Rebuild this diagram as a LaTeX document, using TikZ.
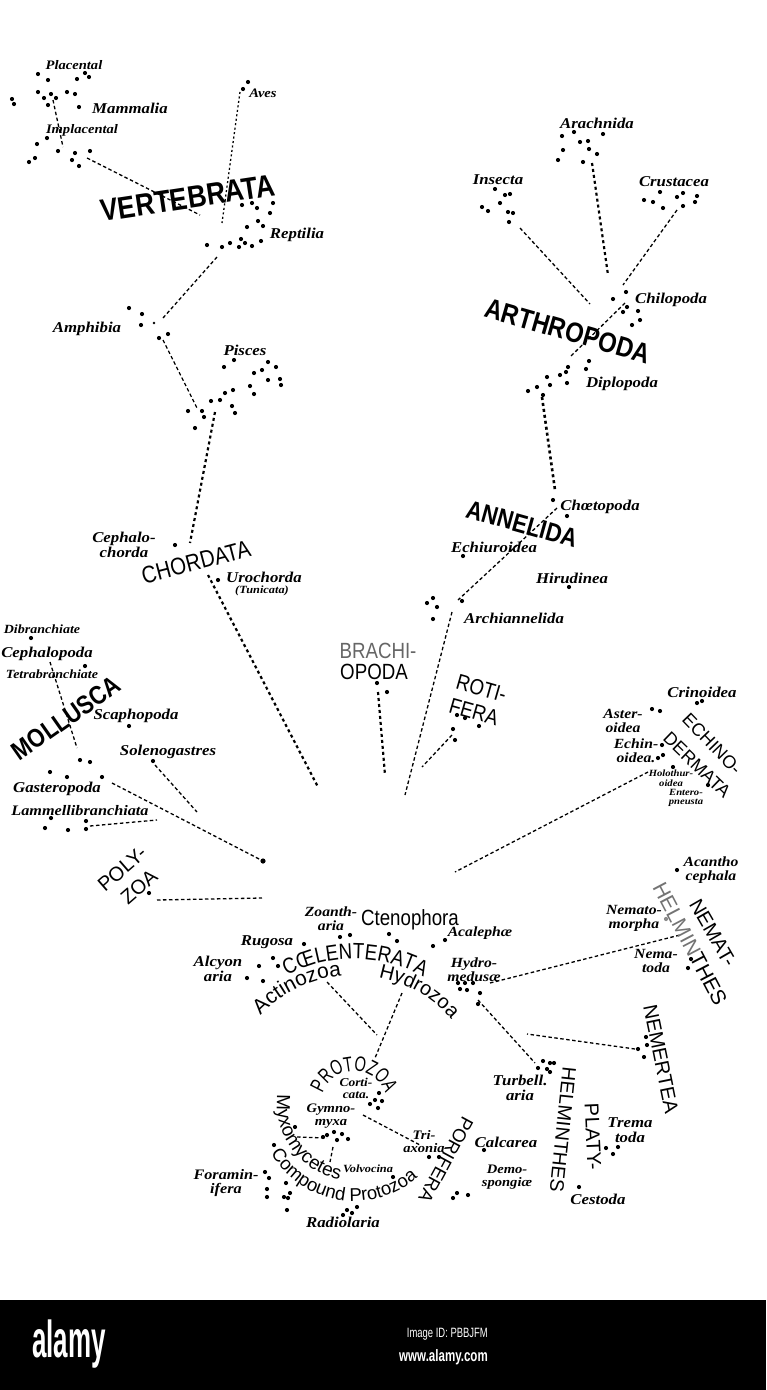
\documentclass[tikz,border=0pt]{standalone}
\usepackage{fontspec}
\usetikzlibrary{decorations.text,calc}
\newfontfamily\lf[FakeStretch=1.12]{Liberation Serif}
\newfontfamily\cf[FakeStretch=0.85]{Liberation Sans}
\newfontfamily\cc[FakeStretch=0.7]{Liberation Sans}
\newfontfamily\cn{Liberation Sans}
\newfontfamily\alf[FakeStretch=0.5]{Liberation Sans}
\newfontfamily\alg[FakeStretch=0.7]{Liberation Sans}
\newcommand\dts[1]{\foreach \x/\y in {#1}{\fill (\x,\y) circle (2.1pt);}}
\tikzset{
  lab/.style={inner sep=0pt, align=center, font=\lf\bfseries\itshape\fontsize{#1}{#1}\selectfont},
  lab/.default=15,
  cap/.style={inner sep=0pt, align=center, font=\cf\fontsize{#1}{#1}\selectfont},
  bcap/.style={inner sep=0pt, font=\cf\bfseries\fontsize{#1}{#1}\selectfont},
  ncap/.style={inner sep=0pt, font=\cn\fontsize{#1}{#1}\selectfont},
  dl/.style={line width=1.3pt, dash pattern=on 3.5pt off 2.5pt},
  dh/.style={line width=2.2pt, dash pattern=on 3pt off 3pt},
  dt/.style={line width=1.3pt, dash pattern=on 2pt off 2.5pt},
}
\begin{document}
\begin{tikzpicture}[x=1pt,y=-1pt]
\useasboundingbox (0,0) rectangle (766,1390);
\fill[white] (0,0) rectangle (766,1300);
\fill[black] (0,1300) rectangle (766,1390);

% ---------------- dots
\dts{38/74,48/80,77/79,85/73,89/77,38/92,44/98,51/94,56/98,48/105,67/92,75/94,79/107,12/99,14/104}
\dts{47/138,37/144,58/151,75/153,90/151,72/160,79/166,35/158,29/162}
\dts{248/82,243/89}
\dts{242/205,252/203,257/208,273/203,270/213,258/221,263/226,247/227,241/239,245/243,261/241,252/246,239/247,230/243,222/247,207/245}
\dts{129/308,142/314,141/325,159/338,168/334}
\fill (154,323) circle (1.3pt);
\dts{224/367,234/360,268/362,276/367,262/370,254/373,268/380,280/379,281/385,250/386,254/394,233/390,225/393,220/400,211/401,232/406,235/413,188/411,202/411,204/417,195/428}
\dts{175/545,218/580}
\dts{562/136,574/132,580/142,588/141,603/134,563/150,589/149,597/154,558/160,583/162}
\dts{495/189,505/195,510/194,500/203,482/207,488/211,508/212,513/213,509/222}
\dts{660/192,644/200,653/202,663/208,677/197,683/193,697/196,695/202,683/206}
\dts{626/292,613/299,627/307,638/311,623/312,640/320,632/325}
\dts{589/361,586/369,568/367,566/372,560/375,567/383,547/377,550/385,537/387,528/391,543/395}
\dts{553/500,567/516,463/556,569/587,433/598,427/603,437/607,433/619,462/601}
\dts{377/683,387/692}
\dts{457/715,465/718,479/726,453/729,455/740}
\dts{702/701,697/703,652/709,660/711,662/745,663/755,658/758,673/767,708/785}
\dts{31/638,85/666,129/726,153/761,80/760,90/762,50/772,67/777,102/777,51/818,86/821,45/828,68/830,86/829}
\fill (263,861) circle (2.6pt);
\dts{149/893}
\dts{340/937,350/935,389/934,397/941,445/940,433/946,304/944,259/966,273/958,278/966,247/978,263/981}
\dts{458/983,465/983,473/983,460/989,467/990,480/993,478/1004}
\dts{677/870,688/968,691/959}
\fill[black!45] (666,919) circle (2.1pt);
\dts{646/1037,647/1045,638/1049,644/1057}
\dts{543/1061,550/1063,554/1063,538/1068,547/1069,550/1072}
\dts{606/1148,618/1147,613/1154,579/1187,484/1150,457/1193,453/1198,468/1195}
\dts{379/1093,382/1101,375/1100,370/1104,378/1108}
\dts{327/1135,334/1132,342/1134,337/1140,348/1139,323/1137}
\dts{429/1157,439/1157,393/1177,295/1127,274/1145}
\dts{265/1172,269/1178,267/1189,286/1183,290/1193,288/1198,267/1197,284/1197,287/1210}
\dts{357/1207,347/1210,352/1213,343/1215}

% ---------------- connector end points
\coordinate (pl1) at (53,100); \coordinate (pl2) at (63,147);
\coordinate (im1) at (87,158); \coordinate (im2) at (200,215);
\coordinate (av1) at (240,92); \coordinate (av2) at (222,223);
\coordinate (re1) at (217,257); \coordinate (re2) at (163,318);
\coordinate (am1) at (163,340); \coordinate (am2) at (197,408);
\coordinate (pi1) at (215,412); \coordinate (pi2) at (190,543);
\coordinate (ch1) at (208,575); \coordinate (ch2) at (318,787);
\coordinate (ar1) at (592,163); \coordinate (ar2) at (608,275);
\coordinate (in1) at (520,228); \coordinate (in2) at (590,304);
\coordinate (cr1) at (677,210); \coordinate (cr2) at (623,285);
\coordinate (cl1) at (625,303); \coordinate (cl2) at (570,357);
\coordinate (dp1) at (542,397); \coordinate (dp2) at (555,490);
\coordinate (ct1) at (557,508); \coordinate (ct2) at (458,600);
\coordinate (ac1) at (452,612); \coordinate (ac2) at (405,795);
\coordinate (br1) at (378,692); \coordinate (br2) at (385,775);
\coordinate (ro1) at (452,735); \coordinate (ro2) at (422,767);
\coordinate (ec1) at (648,772); \coordinate (ec2) at (455,872);
\coordinate (cp1) at (50,662); \coordinate (cp2) at (77,748);
\coordinate (so1) at (155,765); \coordinate (so2) at (197,812);
\coordinate (ga1) at (112,783); \coordinate (ga2) at (263,861);
\coordinate (la1) at (90,826); \coordinate (la2) at (157,820);
\coordinate (po1) at (157,900); \coordinate (po2) at (262,898);
\coordinate (at1) at (327,982); \coordinate (at2) at (377,1035);
\coordinate (hy1) at (402,993); \coordinate (hy2) at (375,1058);
\coordinate (tu1) at (478,1000); \coordinate (tu2) at (535,1063);
\coordinate (nh1) at (490,983); \coordinate (nh2) at (680,935);
\coordinate (ne1) at (635,1049); \coordinate (ne2) at (527,1034);
\coordinate (gy1) at (363,1115); \coordinate (gy2) at (420,1145);
\coordinate (my1) at (297,1137); \coordinate (my2) at (327,1138);
\coordinate (vo1) at (333,1147); \coordinate (vo2) at (330,1162);
\coordinate (pc) at (354,1104);

% ---------------- connectors
\draw[dl] (pl1) -- (pl2);
\draw[dl] (im1) -- (im2);
\draw[dt] (av1) -- (av2);
\draw[dl] (re1) -- (re2);
\draw[dl] (am1) -- (am2);
\draw[dh] (pi1) -- (pi2);
\draw[dh] (ch1) -- (ch2);
\draw[dh] (ar1) -- (ar2);
\draw[dl] (in1) -- (in2);
\draw[dl] (cr1) -- (cr2);
\draw[dl] (cl1) -- (cl2);
\draw[dh, line width=2.6pt] (dp1) -- (dp2);
\draw[dl] (ct1) -- (ct2);
\draw[dl] (ac1) -- (ac2);
\draw[dh] (br1) -- (br2);
\draw[dl] (ro1) -- (ro2);
\draw[dl] (ec1) -- (ec2);
\draw[dl] (cp1) -- (cp2);
\draw[dl] (so1) -- (so2);
\draw[dl] (ga1) -- (ga2);
\draw[dl] (la1) -- (la2);
\draw[dl] (po1) -- (po2);
\draw[dl] (at1) -- (at2);
\draw[dl] (hy1) -- (hy2);
\draw[dl] (tu1) -- (tu2);
\draw[dl] (nh1) -- (nh2);
\draw[dl] (ne1) -- (ne2);
\draw[dl] (gy1) -- (gy2);
\draw[dl] (my1) -- (my2);
\draw[dl] (vo1) -- (vo2);

% ---------------- Vertebrata / Chordata
\node[lab=13] (placental) at (74,65) {Placental};
\node[lab] (mammalia) at (130,108) {Mammalia};
\node[lab=13] (implacental) at (82,130) {Implacental};
\node[lab=13] (aves) at (263,93) {Aves};
\node[bcap=31, rotate=8.6] (vertebrata) at (188,198) {VERTEBRATA};
\node[lab] (reptilia) at (297,235) {Reptilia};
\node[lab] (amphibia) at (87,329) {Amphibia};
\node[lab] (pisces) at (245,350) {Pisces};
\node[lab] (cephalochorda) at (124,545) {Cephalo-\\chorda};
\node[cap=24, rotate=14.7] (chordata) at (196,562) {CHORDATA};
\node[lab] (urochorda) at (264,577) {Urochorda};
\node[lab=11] (tunicata) at (262,591) {(Tunicata)};

% ---------------- Arthropoda / Annelida
\node[lab] (arachnida) at (597,123) {Arachnida};
\node[lab] (insecta) at (498,180) {Insecta};
\node[lab] (crustacea) at (674,182) {Crustacea};
\node[lab] (chilopoda) at (671,300) {Chilopoda};
\node[bcap=28, rotate=-16] (arthropoda) at (568,331) {ARTHROPODA};
\node[lab] (diplopoda) at (622,384) {Diplopoda};
\node[lab] (chaetopoda) at (600,507) {Chœtopoda};
\node[bcap=26, rotate=-15.6] (annelida) at (522,524) {ANNELIDA};
\node[lab] (echiuroidea) at (494,547) {Echiuroidea};
\node[lab] (hirudinea) at (572,578) {Hirudinea};
\node[lab] (archiannelida) at (514,618) {Archiannelida};

% ---------------- Brachiopoda / Rotifera / Echinodermata
\node[cap=22, text=black!60] (brachi) at (378,651) {BRACHI-};
\node[cap=22] (opoda) at (374,672) {OPODA};
\node[cap=22, rotate=-16, align=left] (rotifera) at (478,700) {ROTI-\\[3pt]FERA};
\node[lab] (crinoidea) at (702,692) {Crinoidea};
\node[lab=14] (asteroidea) at (623,721) {Aster-\\oidea};
\node[lab=14] (echinoidea) at (636,751) {Echin-\\oidea.};
\node[ncap=18, rotate=-46] (echino) at (712,744) {ECHINO-};
\node[ncap=18, rotate=-44] (dermata) at (697,765) {DERMATA};
\node[lab=9.5] (holothuroidea) at (671,778) {Holothur-\\oidea};
\node[lab=9.5] (enteropneusta) at (686,798) {Entero-\\pneusta};

% ---------------- Mollusca / Polyzoa
\node[lab=12.5] (dibranchiate) at (42,629) {Dibranchiate};
\node[lab] (cephalopoda) at (47,654) {Cephalopoda};
\node[lab=12.5] (tetrabranchiate) at (52,674) {Tetrabranchiate};
\node[bcap=26, rotate=35] (mollusca) at (66,718) {MOLLUSCA};
\node[lab] (scaphopoda) at (136,716) {Scaphopoda};
\node[lab] (solenogastres) at (168,752) {Solenogastres};
\node[lab] (gasteropoda) at (57,789) {Gasteropoda};
\node[lab=14.5] (lammelli) at (80,811) {Lammellibranchiata};
\node[ncap=20, rotate=41] (poly) at (122,869) {POLY-};
\node[ncap=20, rotate=41] (zoa) at (139,887) {ZOA};

% ---------------- Coelenterata
\node[lab=14] (zoantharia) at (331,919) {Zoanth-\\aria};
\node[cap=22] (ctenophora) at (410,920) {Ctenophora};
\node[lab=14] (acalephae) at (480,933) {Acalephæ};
\node[lab] (rugosa) at (267,942) {Rugosa};
\node[lab] (alcyonaria) at (218,969) {Alcyon\\aria};
\node[lab=14] (hydromedusae) at (474,970) {Hydro-\\medusæ};
\path[decorate, decoration={text along path, text align=center,
   text={|\cf\fontsize{22}{22}\selectfont|CŒLENTERATA}}]
   ($(pc)+(124:145pt)$) arc[start angle=124, end angle=55, radius=145pt];
\path[decorate, decoration={text along path, text align=center,
   text={|\cn\fontsize{21}{21}\selectfont|Actinozoa}}]
   ($(pc)+(150:129pt)$) arc[start angle=150, end angle=82, radius=129pt];
\path[decorate, decoration={text along path, text align=center,
   text={|\cn\fontsize{20}{20}\selectfont|Hydrozoa}}]
   ($(pc)+(85:129pt)$) arc[start angle=85, end angle=35, radius=129pt];

% ---------------- Nemathelminthes / Nemertea / Platyhelminthes
\node[lab=14] (acanthocephala) at (711,870) {Acantho\\cephala};
\node[ncap=20, rotate=-60] (nemat) at (713,933) {NEMAT-};
\node[ncap=21, rotate=-62.3] (helminthes) at (690,944) {\textcolor{black!55}{HELMIN}THES};
\node[lab=14] (nematomorpha) at (634,918) {Nemato-\\morpha};
\node[lab=14] (nematoda) at (656,961) {Nema-\\toda};
\node[ncap=20, rotate=-78.5] (nemertea) at (661,1059) {NEMERTEA};
\node[lab] (turbellaria) at (520,1088) {Turbell.\\aria};
\node[ncap=20, rotate=-87.5] (platy) at (593,1137) {PLATY-};
\node[ncap=19.5, rotate=-96] (platyhelm) at (563,1130) {HELMINTHES};
\node[lab] (trematoda) at (630,1130) {Trema\\toda};
\node[lab] (cestoda) at (598,1199) {Cestoda};

% ---------------- Porifera / Protozoa
\node[ncap=18.5, rotate=-118.4] (porifera) at (446,1160) {PORIFERA};
\node[lab] (calcarea) at (506,1142) {Calcarea};
\node[lab=13] (demospongiae) at (507,1177) {Demo-\\spongiæ};
\node[lab=13] (triaxonia) at (424,1142) {Tri-\\axonia};
\node[lab=12] (corticata) at (356,1088) {Corti-\\cata.};
\node[lab=13] (gymnomyxa) at (331,1116) {Gymno-\\myxa};
\node[lab=11] (volvocina) at (368,1169) {Volvocina};
\node[lab=14.5] (foraminifera) at (226,1183) {Foramin-\\ifera};
\node[lab] (radiolaria) at (343,1222) {Radiolaria};
\path[decorate, decoration={text along path, text align=center,
   text={|\cc\fontsize{21}{21}\selectfont|PROTOZOA}}]
   ($(pc)+(175:33pt)$) arc[start angle=175, end angle=5, radius=33pt];
\path[decorate, decoration={text along path, text align=center,
   text={|\cn\fontsize{19}{19}\selectfont|Myxomycetes}}]
   ($(pc)+(160:77pt)$) arc[start angle=160, end angle=272, radius=77pt];
\path[decorate, decoration={text along path, text align=center,
   text={|\cn\fontsize{18.5}{18.5}\selectfont|Compound Protozoa}}]
   ($(pc)+(200:97pt)$) arc[start angle=200, end angle=322, radius=97pt];

% ---------------- watermark bar
\node[anchor=base west, inner sep=0pt, text=white, font=\alf\bfseries\fontsize{52}{52}\selectfont] (alamy) at (32,1357) {alamy};
\node[anchor=base east, inner sep=0pt, text=white, font=\alg\fontsize{13.5}{13.5}\selectfont] (imgid) at (488,1337) {Image ID: PBBJFM};
\node[anchor=base east, inner sep=0pt, text=white, font=\alg\bfseries\fontsize{16.5}{16.5}\selectfont] (www) at (488,1361) {www.alamy.com};
\end{tikzpicture}
\end{document}
